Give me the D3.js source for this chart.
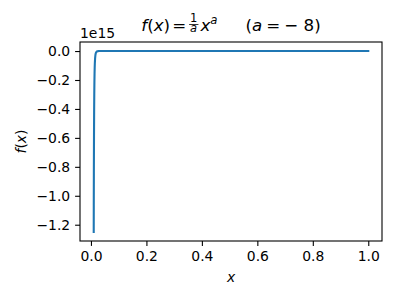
<!DOCTYPE html>
<html>
<head>
<meta charset="utf-8">
<script src="https://cdn.jsdelivr.net/npm/d3@7"></script>
<style>
  body { margin: 0; background: #fff; }
  svg text { font-family: "DejaVu Sans", sans-serif; fill: #000; white-space: pre; }
</style>
</head>
<body>
<div id="chart"></div>
<script>
// curve samples, y in units of 1e15
const xValues = [0.01, 0.0102, 0.0105, 0.0108, 0.011, 0.0115, 0.012, 0.0125, 0.013, 0.0135, 0.014,
                 0.015, 0.016, 0.017, 0.018, 0.02, 0.022, 0.025, 0.03, 0.04, 0.05, 0.1, 0.3, 0.5, 0.75, 1.0];
const yValues = [-1.25, -1.067, -0.846, -0.675, -0.583, -0.408, -0.291, -0.210, -0.153, -0.113, -0.0847,
                 -0.0488, -0.0291, -0.0179, -0.0113, -0.0049, -0.0023, -0.0008, -0.0002, 0.0, 0.0, 0.0, 0.0, 0.0, 0.0, 0.0];
const xTicks = [0.0, 0.2, 0.4, 0.6, 0.8, 1.0];
const yTicks = [0.0, -0.2, -0.4, -0.6, -0.8, -1.0, -1.2];

const W = 400, H = 300;
const margin = {top: 42, right: 18, bottom: 59, left: 80};
const width = W - margin.left - margin.right;
const height = H - margin.top - margin.bottom;

const svg = d3.select("#chart").append("svg")
    .attr("width", W)
    .attr("height", H);

const g = svg.append("g")
    .attr("transform", "translate(" + margin.left + "," + margin.top + ")");

const x = d3.scaleLinear().domain([-0.0395, 1.0495]).range([0, width]);
const y = d3.scaleLinear().domain([-1.3125, 0.0625]).range([height, 0]);

const fmt = d3.format(".1f");

// axes
const xAxis = g.append("g")
    .attr("transform", "translate(0," + height + ")")
    .call(d3.axisBottom(x).tickValues(xTicks).tickFormat(fmt).tickSize(4.9).tickPadding(4.9));
const yAxis = g.append("g")
    .call(d3.axisLeft(y).tickValues(yTicks).tickFormat(fmt).tickSize(4.9).tickPadding(4.9));

[xAxis, yAxis].forEach(a => {
    a.select(".domain").remove();
    a.selectAll("line").attr("stroke", "#000").attr("stroke-width", 1.1);
    a.selectAll("text").style("font-size", "13.9px").attr("fill", "#000");
});

// curve
const line = d3.line().x((d, i) => x(xValues[i])).y(d => y(d));
g.append("path")
    .datum(yValues)
    .attr("d", line)
    .attr("fill", "none")
    .attr("stroke", "#1f77b4")
    .attr("stroke-width", 2.1)
    .attr("stroke-linejoin", "round")
    .attr("stroke-linecap", "square");

// frame
g.append("rect")
    .attr("width", width)
    .attr("height", height)
    .attr("fill", "none")
    .attr("stroke", "#000")
    .attr("stroke-width", 1.1);

// offset text
svg.append("text")
    .attr("x", margin.left)
    .attr("y", margin.top - 4)
    .style("font-size", "13.9px")
    .text("1e15");

// axis labels
svg.append("text")
    .attr("x", margin.left + width / 2)
    .attr("y", 282)
    .attr("text-anchor", "middle")
    .style("font-size", "13.9px")
    .style("font-style", "italic")
    .text("x");

svg.append("text")
    .attr("transform", "translate(26," + (margin.top + height / 2) + ") rotate(-90)")
    .attr("text-anchor", "middle")
    .style("font-size", "13.9px")
    .html('<tspan font-style="italic">f</tspan>(<tspan font-style="italic">x</tspan>)');

// title: f(x) = 1/a x^a   (a = -8), one text element built from tspans
const title = svg.append("g");
const titleText = title.append("text");
const tBase = 31;
let cx = 0;
function piece(str, opts) {
    const t = titleText.append("tspan")
        .attr("x", cx + (opts.dx || 0))
        .attr("y", tBase + (opts.dy || 0))
        .style("font-size", (opts.size || 16.7) + "px")
        .style("font-style", opts.italic ? "italic" : "normal")
        .text(str);
    const w = t.node().getComputedTextLength();
    if (!opts.stay) cx += w + (opts.gap || 0);
    return w;
}
piece("f", {italic: true});
piece("(", {});
piece("x", {italic: true});
piece(")", {gap: 2});
piece("=", {gap: 3});
// fraction
const fx = cx;
const w1 = piece("1", {size: 11.5, dx: 1, dy: -9, stay: true});
const w2 = piece("a", {size: 11.5, dx: 1, dy: 1, italic: true, stay: true});
const fw = Math.max(w1, w2) + 2;
title.append("line").attr("x1", fx).attr("x2", fx + fw).attr("y1", tBase - 6.5).attr("y2", tBase - 6.5)
    .attr("stroke", "#000").attr("stroke-width", 0.8);
cx += fw + 2;
piece("x", {italic: true});
piece("a", {italic: true, size: 11.7, dy: -7, gap: 28});
piece("(", {});
piece("a", {italic: true, gap: 4});
piece("=", {gap: 4});
piece("− 8)", {});
const tw = cx;
title.attr("transform", "translate(" + (margin.left + width / 2 - tw / 2) + ",0)");
</script>
</body>
</html>
